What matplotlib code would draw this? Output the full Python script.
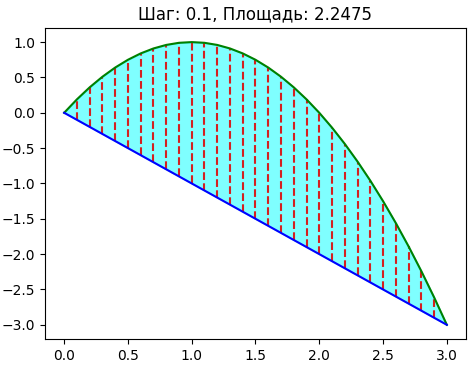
import matplotlib
matplotlib.use("Agg")
import matplotlib.pyplot as plt

x_vals = [0.0, 0.1, 0.2, 0.3, 0.4, 0.5, 0.6, 0.7, 0.8, 0.9, 1.0,
          1.1, 1.2, 1.3, 1.4, 1.5, 1.6, 1.7, 1.8, 1.9, 2.0,
          2.1, 2.2, 2.3, 2.4, 2.5, 2.6, 2.7, 2.8, 2.9, 3.0]
upper_vals = [0.0, 0.19, 0.36, 0.51, 0.64, 0.75, 0.84, 0.91, 0.96, 0.99, 1.0,
              0.99, 0.96, 0.91, 0.84, 0.75, 0.64, 0.51, 0.36, 0.19, 0.0,
              -0.21, -0.44, -0.69, -0.96, -1.25, -1.56, -1.89, -2.24, -2.61, -3.0]
lower_vals = [0.0, -0.1, -0.2, -0.3, -0.4, -0.5, -0.6, -0.7, -0.8, -0.9, -1.0,
              -1.1, -1.2, -1.3, -1.4, -1.5, -1.6, -1.7, -1.8, -1.9, -2.0,
              -2.1, -2.2, -2.3, -2.4, -2.5, -2.6, -2.7, -2.8, -2.9, -3.0]
title = "Шаг: 0.1, Площадь: 2.2475"

fig, ax = plt.subplots(figsize=(4.74, 3.68), dpi=100)
ax.fill_between(x_vals, lower_vals, upper_vals, color="cyan", alpha=0.5)
for xv, lo, up in zip(x_vals, lower_vals, upper_vals):
    ax.plot([xv, xv], [lo, up], color="#d42020", linestyle="--", linewidth=1.5)
ax.plot(x_vals, upper_vals, color="green", linewidth=1.5)
ax.plot(x_vals, lower_vals, color="blue", linewidth=1.5)
ax.set_title(title)
fig.subplots_adjust(left=0.095, right=0.983, top=0.924, bottom=0.079)
fig.savefig("out.png", dpi=100)
